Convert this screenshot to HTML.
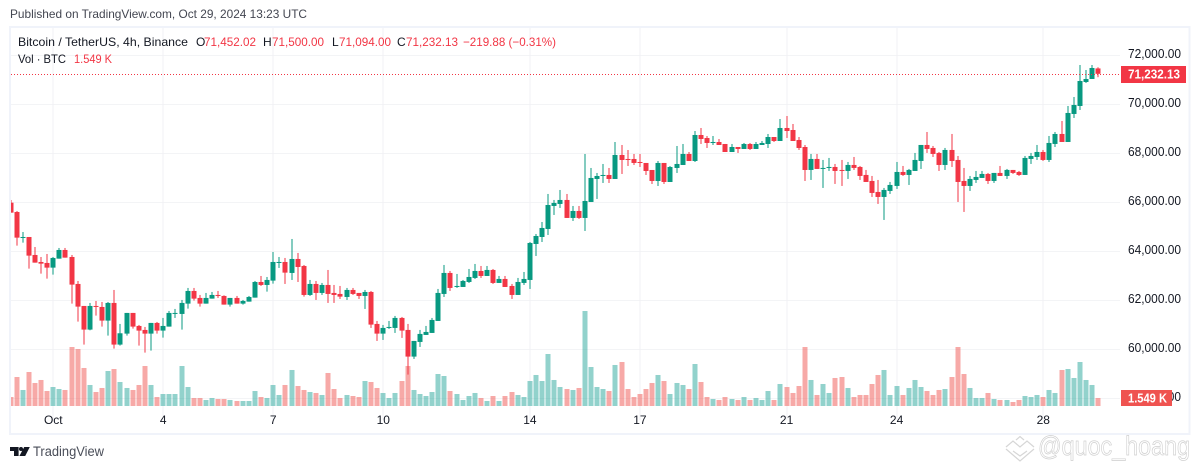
<!DOCTYPE html>
<html lang="en">
<head>
<meta charset="utf-8">
<title>BTCUSDT 4h chart</title>
<style>
html,body{margin:0;padding:0;background:#fff;width:1200px;height:469px;overflow:hidden}
svg{display:block}
text{font-family:"Liberation Sans",sans-serif}
</style>
</head>
<body>
<svg id="chart" xmlns="http://www.w3.org/2000/svg" width="1200" height="469" viewBox="0 0 1200 469">
  <text x="10" y="18" font-size="12" fill="#434651" textLength="297" lengthAdjust="spacingAndGlyphs">Published on TradingView.com, Oct 29, 2024 13:23 UTC</text>
  <rect x="10" y="27" width="1179.5" height="407" fill="#fff" stroke="#f0f3fa" stroke-width="2"/>
  <g id="grid"></g>
  <g id="volumes" clip-path="url(#pane)"></g>
  <g id="candles" clip-path="url(#pane)"></g>
  <defs><clipPath id="pane"><rect x="11" y="28" width="1109" height="378"/></clipPath></defs>
  <g id="priceAxis"></g>
  <g id="timeAxis"></g>

  <g font-size="12">
    <text x="18" y="46" fill="#131722" textLength="170" lengthAdjust="spacingAndGlyphs">Bitcoin / TetherUS, 4h, Binance</text>
    <text x="196" y="46" fill="#131722">O</text>
    <text x="204" y="46" fill="#f23645" textLength="52" lengthAdjust="spacingAndGlyphs">71,452.02</text>
    <text x="263" y="46" fill="#131722">H</text>
    <text x="272" y="46" fill="#f23645" textLength="52" lengthAdjust="spacingAndGlyphs">71,500.00</text>
    <text x="332" y="46" fill="#131722">L</text>
    <text x="339" y="46" fill="#f23645" textLength="52" lengthAdjust="spacingAndGlyphs">71,094.00</text>
    <text x="397" y="46" fill="#131722">C</text>
    <text x="406" y="46" fill="#f23645" textLength="52" lengthAdjust="spacingAndGlyphs">71,232.13</text>
    <text x="463" y="46" fill="#f23645" textLength="93" lengthAdjust="spacingAndGlyphs">−219.88 (−0.31%)</text>
    <text x="18" y="63" fill="#131722" textLength="48" lengthAdjust="spacingAndGlyphs">Vol · BTC</text>
    <text x="74" y="63" fill="#f23645" textLength="38" lengthAdjust="spacingAndGlyphs">1.549 K</text>
  </g>

  <g>
    <path fill="#131722" d="M10 447h8.6v9h-4.6v-5h-4zM24.2 447h5.6l-4.6 9h-5.8zM23 449a2 2 0 1 1-4 0 2 2 0 0 1 4 0z"/>
    <text x="33" y="456" font-size="13.5" fill="#4a4e59" textLength="71" lengthAdjust="spacingAndGlyphs">TradingView</text>
  </g>

  <g>
    <g fill="none" stroke="#d6d6d6" stroke-width="1.2">
      <path d="M1006 447l7-6 7 6 7-6 7 6"/>
      <path d="M1006 449l14 12 14-12"/>
      <path d="M1013 451l7 5 7-5"/>
      <path d="M1016 440l4-3.500 4 3.500"/>
    </g>
    <text x="1038" y="455" font-size="27" fill="#fff" stroke="#cfcfcf" stroke-width="0.7" textLength="152" lengthAdjust="spacingAndGlyphs">@quoc_hoang</text>
  </g>
</svg>
<script>
const opens=[65973,65592,64532,64572,63838,63552,63512,63321,63688,64042,
63756,62655,61757,60792,61757,61716,61159,61880,60180,60628,
61472,60941,60778,60628,61064,60751,60914,61444,61431,61852,
62369,62084,61852,62056,62206,62165,61812,62084,61852,61934,
62097,62736,62614,62791,63525,63552,63104,63675,63389,62206,
62655,62288,62614,62288,62247,62124,62410,62288,62165,62328,
61023,60628,60860,60860,61268,60778,59690,60288,60574,60656,
61145,62247,63104,62532,62532,62736,62900,63185,62981,63226,
62696,62859,62573,62206,62696,62818,64287,64572,64899,65838,
65920,66083,65349,65634,65349,66001,66940,67062,67103,66940,
67919,67756,67756,67633,67593,67307,66858,67593,66817,67389,
67511,67960,67674,68735,68613,68409,68449,68368,68041,68245,
68164,68368,68164,68327,68368,68653,68490,69021,68939,68531,
68245,67308,67757,67349,67390,67430,67308,67267,67512,67430,
67104,66859,66410,66206,66451,66655,67226,67104,67267,67675,
68328,68206,68002,67512,68124,67716,66859,66655,66900,66982,
67145,66859,67186,67063,67308,67226,67104,67757,67838,68042,
67716,68369,68777,68450,69593,69919,70898,71021,71452];
const highs=[66082,65633,64776,64572,64164,63756,63879,63756,64124,64124,
63838,62777,61757,61880,61961,61920,61920,62410,61023,61472,
61472,60982,60900,61064,61104,61268,61553,61635,62002,62492,
62492,62206,62288,62328,62369,62192,62084,62165,62002,62165,
62777,62981,62940,63960,63756,63716,64491,63920,63430,62818,
62777,62696,63226,62614,62573,62492,62492,62288,62410,62369,
61145,60982,61145,61349,61308,61023,60329,60778,60941,61268,
62451,63430,63185,63063,62818,63267,63471,63389,63389,63267,
62981,62981,62655,62900,63144,64368,64695,65184,66328,66083,
66491,66328,65838,65838,67960,67389,67185,67552,67389,68449,
68327,68123,67960,67960,67593,67307,67674,67593,67470,68286,
68368,68041,68898,69021,68694,68694,68572,68368,68368,68245,
68409,68409,68449,68490,68776,68653,69388,69510,69184,68653,
68327,67961,67961,67716,67798,67553,67716,67634,67838,67471,
67308,67063,66900,66574,66818,67634,67471,67349,68002,68328,
68858,68287,68042,68206,68777,67879,67390,67063,67267,67267,
67186,67186,67471,67349,67308,67267,67879,68002,68328,68124,
68695,68858,69307,69919,70286,71592,71388,71592,71500];
const lows=[65565,64219,64341,63280,63525,63076,62872,63036,63688,63729,
61852,61118,60180,60764,61363,60914,60547,60016,60139,60547,
60832,60139,59853,59935,60628,60465,60914,61268,60792,61648,
61975,61730,61852,62056,62084,61812,61730,61852,61812,61934,
62097,62573,62342,62668,63308,62655,62818,62736,62138,62165,
62002,62206,61880,61880,62043,62002,62206,62043,61635,60860,
60329,60370,60819,60656,60452,58956,59595,60084,60574,60656,
61145,62124,62369,62492,62532,62696,62859,62900,62981,62655,
62696,62532,62043,62206,62614,62451,63797,64368,64654,65471,
65757,65349,65226,65308,64818,66001,66124,66777,66777,66940,
67144,67470,67511,67429,67103,66736,66654,66736,66817,67185,
67511,67674,67633,68368,68205,68327,68327,68041,68041,68001,
68164,68123,68164,68327,68205,68449,68490,68613,68490,68123,
66858,66900,67349,66574,67267,66737,66655,66941,67308,66900,
66818,66206,65921,65268,66329,66533,67063,66696,67267,67349,
68002,67838,67267,67308,67430,66002,65594,66451,66778,66982,
66737,66778,67063,66941,67145,67063,67104,67553,67716,67675,
67634,68246,68450,68450,69430,69756,70858,71021,71094];
const closes=[65565,64545,64572,63811,63525,63484,63321,63716,64042,63729,
62628,61730,60792,61757,61716,61159,61880,60180,60642,61472,
60914,60751,60628,61064,60751,60941,61472,61472,61880,62369,
62056,61852,62084,62206,62165,61812,62084,61852,61961,62124,
62736,62614,62818,63552,63552,63117,63675,63348,62206,62655,
62288,62614,62247,62206,62138,62410,62247,62165,62328,60996,
60628,60860,60900,61268,60751,59690,60329,60615,60696,61186,
62288,63104,62492,62573,62777,62940,63185,62981,63226,62696,
62859,62532,62206,62736,62859,64328,64613,64940,65878,65961,
66083,65349,65634,65349,66042,66981,67062,67103,66940,67919,
67715,67715,67593,67593,67266,66858,67593,66817,67429,67552,
67960,67674,68735,68572,68409,68449,68327,68041,68245,68164,
68368,68164,68368,68409,68653,68490,69021,68898,68490,68205,
67307,67757,67349,67390,67430,67267,67267,67512,67390,67063,
66818,66370,66206,66492,66696,67226,67104,67308,67716,68328,
68165,67961,67512,68124,67675,66818,66655,66941,67022,67145,
66859,67186,67063,67308,67186,67104,67798,67879,68042,67716,
68410,68777,68450,69634,69960,70939,71021,71470,71232];
const volumes=[1742,5614,3098,6582,4453,5034,2904,3678,3291,3098,
11422,11035,7357,4066,2710,3485,6776,7163,4646,3485,
3098,4066,7744,4066,1742,2323,2323,2323,7744,3678,
1549,1549,1162,1549,1355,1355,1162,968,968,968,
2904,1742,1549,4066,2130,4066,6970,3872,3098,2710,
2517,2130,6389,3291,1549,2130,1936,1742,4840,4646,
3485,2517,1549,2517,4840,7744,3098,2323,1936,2710,
6195,5808,2904,2323,1162,1936,2517,1549,968,1936,
968,1936,2710,2130,1742,4840,6002,4840,10067,5034,
3678,3291,3098,3485,18392,7550,3678,3291,2904,7938,
8518,3291,1742,2323,3291,4453,6002,4840,2323,4453,
4066,3291,8131,4646,1742,1355,1162,1742,1355,1162,
1742,1162,1549,1162,2904,1162,4259,3678,2517,3872,
11422,5034,2130,4259,2517,5421,5614,3485,1742,2130,
2130,4259,6002,6970,2130,3872,2130,3485,5034,3678,
2904,2130,3098,3291,5614,11422,6195,3485,1549,1549,
2517,1355,1162,1162,774,1162,1936,1742,2130,1742,
3098,2517,6970,7163,5421,8518,5034,4066,1549];
const priceTicks=[72000,70000,68000,66000,64000,62000,60000,58000];
const timeTickLabels=["Oct","4","7","10","14","17","21","24","28"];
const timeTickBars=[7,25,43,61,85,103,127,145,169];
const lastPriceLabel="71,232.13";
const lastVolumeLabel="1.549 K";

const NS="http://www.w3.org/2000/svg";
function xOf(i){return 10.5+i*6.111;}
function yPrice(p){return 55+(72000-p)*49/2000;}
function yVolume(v){return 406-v/193.6;}
function mk(tag,parent,attrs){
  const el=document.createElementNS(NS,tag);
  for(const k in attrs)el.setAttribute(k,attrs[k]);
  parent.appendChild(el);
  return el;
}
const grid=document.getElementById('grid');
const priceAxis=document.getElementById('priceAxis');
const timeAxis=document.getElementById('timeAxis');
const volG=document.getElementById('volumes');
const candleG=document.getElementById('candles');

priceTicks.forEach(function(p){
  const y=Math.round(yPrice(p));
  const line=mk('rect',grid,{x:11,y:y,width:1109,height:1,fill:'#f3f4f6'});
  
  
  const t=mk('text',priceAxis,{x:1128,y:y+2.8,'font-size':12.5,textLength:53,lengthAdjust:'spacingAndGlyphs',fill:'#131722'});
  
  
  t.textContent=p.toLocaleString('en-US')+'.00';
});
timeTickLabels.forEach(function(label,n){
  const x=xOf(timeTickBars[n]);
  const line=mk('rect',grid,{x:Math.round(x)-0.5,y:28,width:1,height:378+14,fill:'#f0f1f4'});
  
  
  const t=mk('text',timeAxis,{x:x,y:424,'font-size':12,'text-anchor':'middle',fill:'#131722'});
  
  
  t.textContent=label;
});

volumes.forEach(function(v,i){
  const up=closes[i]>=opens[i];
  const x=Math.round(xOf(i));
  const top=yVolume(v);
  const bar=mk('rect',volG,{x:x-2.5,y:top,width:5,height:406-top,fill:up?'rgba(38,166,154,.5)':'rgba(239,83,80,.5)'});
  
  
});
opens.forEach(function(o,i){
  const c=closes[i];
  const up=c>=o;
  const col=up?'#089981':'#f23645';
  const x=Math.round(xOf(i));
  const g=mk('g',candleG,{});
  
  
  const yh=yPrice(highs[i]),yl=yPrice(lows[i]);
  const wick=mk('rect',g,{x:x-0.5,y:yh,width:1,height:yl-yh,fill:col});
  
  
  const yt=yPrice(Math.max(o,c)),yb=yPrice(Math.min(o,c));
  const body=mk('rect',g,{x:x-2.5,y:yt,width:5,height:Math.max(1,yb-yt),fill:col});
  
  
});

const lastClose=closes[closes.length-1];
const ly=Math.round(yPrice(lastClose))+0.5;
const pl=mk('line',priceAxis,{x1:11,x2:1120,y1:ly,y2:ly,stroke:'#f23645','stroke-width':1,'stroke-dasharray':'1 2'});


const pb=mk('rect',priceAxis,{x:1121,y:66,width:65,height:17,fill:'#f23645'});


const pt=mk('text',priceAxis,{x:1128,y:78.5,'font-size':12.5,'font-weight':'bold',textLength:52,lengthAdjust:'spacingAndGlyphs',fill:'#fff'});


pt.textContent=lastPriceLabel;
const vb=mk('rect',priceAxis,{x:1121,y:390,width:51,height:16,fill:'#ef5350'});


const vt=mk('text',priceAxis,{x:1128,y:402.5,'font-size':12.5,'font-weight':'bold',textLength:39,lengthAdjust:'spacingAndGlyphs',fill:'#fff'});


vt.textContent=lastVolumeLabel;
</script>
</body>
</html>
